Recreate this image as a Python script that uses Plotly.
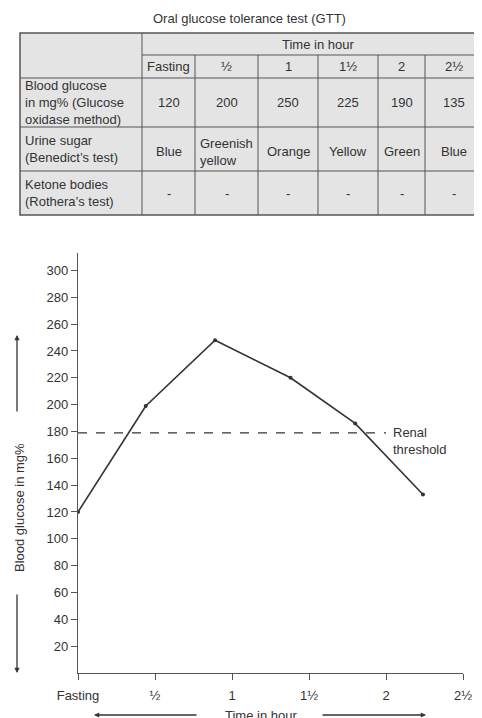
import plotly.graph_objects as go

# data
time_labels = ['Fasting', '½', '1', '1½', '2', '2½']
blood_glucose = ['120', '200', '250', '225', '190', '135']
urine_sugar = ['Blue', 'Greenish<br>yellow', 'Orange', 'Yellow', 'Green', 'Blue']
ketone = ['-', '-', '-', '-', '-', '-']
row_labels = ['Blood glucose<br>in mg% (Glucose<br>oxidase method)',
              'Urine sugar<br>(Benedict’s test)',
              'Ketone bodies<br>(Rothera’s test)']

# plotted points (hours, mg%) as drawn in the graph
x_hours = [0, 0.44, 0.89, 1.38, 1.8, 2.24]
y_glucose = [120, 199, 248, 220, 186, 133]
renal_threshold = 179
x_ticks = [0, 0.5, 1, 1.5, 2, 2.5]
y_ticks = list(range(20, 301, 20))

W, H = 482, 718
FONT = 'Liberation Sans, Arial, sans-serif'
INK = '#333333'

fig = go.Figure()
fig.add_trace(go.Scatter(x=x_hours, y=y_glucose, mode='lines+markers',
                         line=dict(color=INK, width=1.6),
                         marker=dict(size=4, color=INK), showlegend=False))
fig.add_trace(go.Scatter(x=[0, 2.0], y=[renal_threshold] * 2, mode='lines',
                         line=dict(color=INK, width=1.2, dash='dash'),
                         showlegend=False))
fig.add_annotation(x=2.03, y=renal_threshold, text='Renal<br>threshold',
                   showarrow=False, xanchor='left', yanchor='top', yshift=10,
                   align='left', font=dict(size=13, color=INK))

shapes, annos = [], []

def px_x(p):
    return p / W

def px_y(p):
    return 1 - p / H

# ---- table (pixel grid) ----
cols = [12, 134, 187, 250, 310, 370, 417, 475]
rows = [25, 47, 70, 119, 163, 207]
shapes.append(dict(type='rect', xref='paper', yref='paper',
                   x0=px_x(cols[0]), x1=px_x(cols[-1]), y0=px_y(rows[-1]), y1=px_y(rows[0]),
                   fillcolor='#e4e4e4', line=dict(color='#555', width=1.5), layer='below'))

def hline(y, x0, x1):
    shapes.append(dict(type='line', xref='paper', yref='paper', x0=px_x(x0), x1=px_x(x1),
                       y0=px_y(y), y1=px_y(y), line=dict(color='#555', width=1)))

def vline(x, y0, y1):
    shapes.append(dict(type='line', xref='paper', yref='paper', x0=px_x(x), x1=px_x(x),
                       y0=px_y(y0), y1=px_y(y1), line=dict(color='#555', width=1)))

hline(rows[1], cols[1], cols[-1])
for r in rows[2:-1]:
    hline(r, cols[0], cols[-1])
vline(cols[1], rows[0], rows[-1])
for c in cols[2:-1]:
    vline(c, rows[1], rows[-1])

def cell_text(text, x, y, anchor='center'):
    annos.append(dict(xref='paper', yref='paper', x=px_x(x), y=px_y(y), text=text,
                      showarrow=False, xanchor=anchor, yanchor='middle', align='left',
                      font=dict(size=13, color=INK, family=FONT)))

annos.append(dict(xref='paper', yref='paper', x=0.5, y=px_y(11), text='Oral glucose tolerance test (GTT)',
                  showarrow=False, xanchor='center', yanchor='middle',
                  font=dict(size=13, color=INK, family=FONT)))
cell_text('Time in hour', (cols[1] + cols[-1]) / 2 + 5, (rows[0] + rows[1]) / 2)
for i, lab in enumerate(time_labels):
    cx = (cols[i + 1] + cols[i + 2]) / 2
    cell_text(lab, cx, (rows[1] + rows[2]) / 2)
    cell_text(blood_glucose[i], cx, (rows[2] + rows[3]) / 2)
    cell_text(urine_sugar[i], cx, (rows[3] + rows[4]) / 2 + 3)
    cell_text(ketone[i], cx, (rows[4] + rows[5]) / 2)
for j, lab in enumerate(row_labels):
    cell_text(lab, cols[0] + 3, (rows[j + 2] + rows[j + 3]) / 2, anchor='left')

# ---- axis titles with arrows ----
annos.append(dict(xref='paper', yref='paper', x=px_x(11), y=px_y(500), text='Blood glucose in mg%',
                  textangle=-90, showarrow=False, xanchor='center', yanchor='middle',
                  font=dict(size=13, color=INK, family=FONT)))
annos.append(dict(xref='paper', yref='paper', x=px_x(253), y=px_y(707), text='Time in hour',
                  showarrow=False, xanchor='center', yanchor='middle',
                  font=dict(size=13, color=INK, family=FONT)))
arrows = [((9, 327), (9, 405)), ((9, 665), (9, 585)),
          ((86, 707), (190, 707)), ((418, 707), (313, 707))]
for (hx, hy), (tx, ty) in arrows:
    annos.append(dict(xref='paper', yref='paper', x=px_x(hx), y=px_y(hy),
                      axref='pixel', ayref='pixel', ax=tx - hx, ay=ty - hy, text='',
                      showarrow=True, arrowhead=2, arrowsize=0.8, arrowwidth=1.3, arrowcolor=INK))

for a in annos:
    fig.add_annotation(**a)

fig.update_layout(
    width=W, height=H, autosize=False, margin=dict(l=0, r=0, t=0, b=0, pad=0),
    paper_bgcolor='white', plot_bgcolor='white', shapes=shapes,
    font=dict(family=FONT, color=INK, size=13),
    xaxis=dict(domain=[70 / W, 455 / W], range=[0, 2.5], tickvals=x_ticks, ticktext=time_labels,
               showgrid=False, zeroline=False, showline=True, linecolor='#555', linewidth=1.2,
               ticks='outside', ticklen=6, tickcolor='#555', ticklabelstandoff=4, automargin=False),
    yaxis=dict(domain=[1 - 665 / H, 1 - 245 / H], range=[0, 313], tickvals=y_ticks,
               showgrid=False, zeroline=False, showline=True, linecolor='#555', linewidth=1.2,
               ticks='outside', ticklen=6, tickcolor='#555', automargin=False),
)

fig.write_html('out.html')
